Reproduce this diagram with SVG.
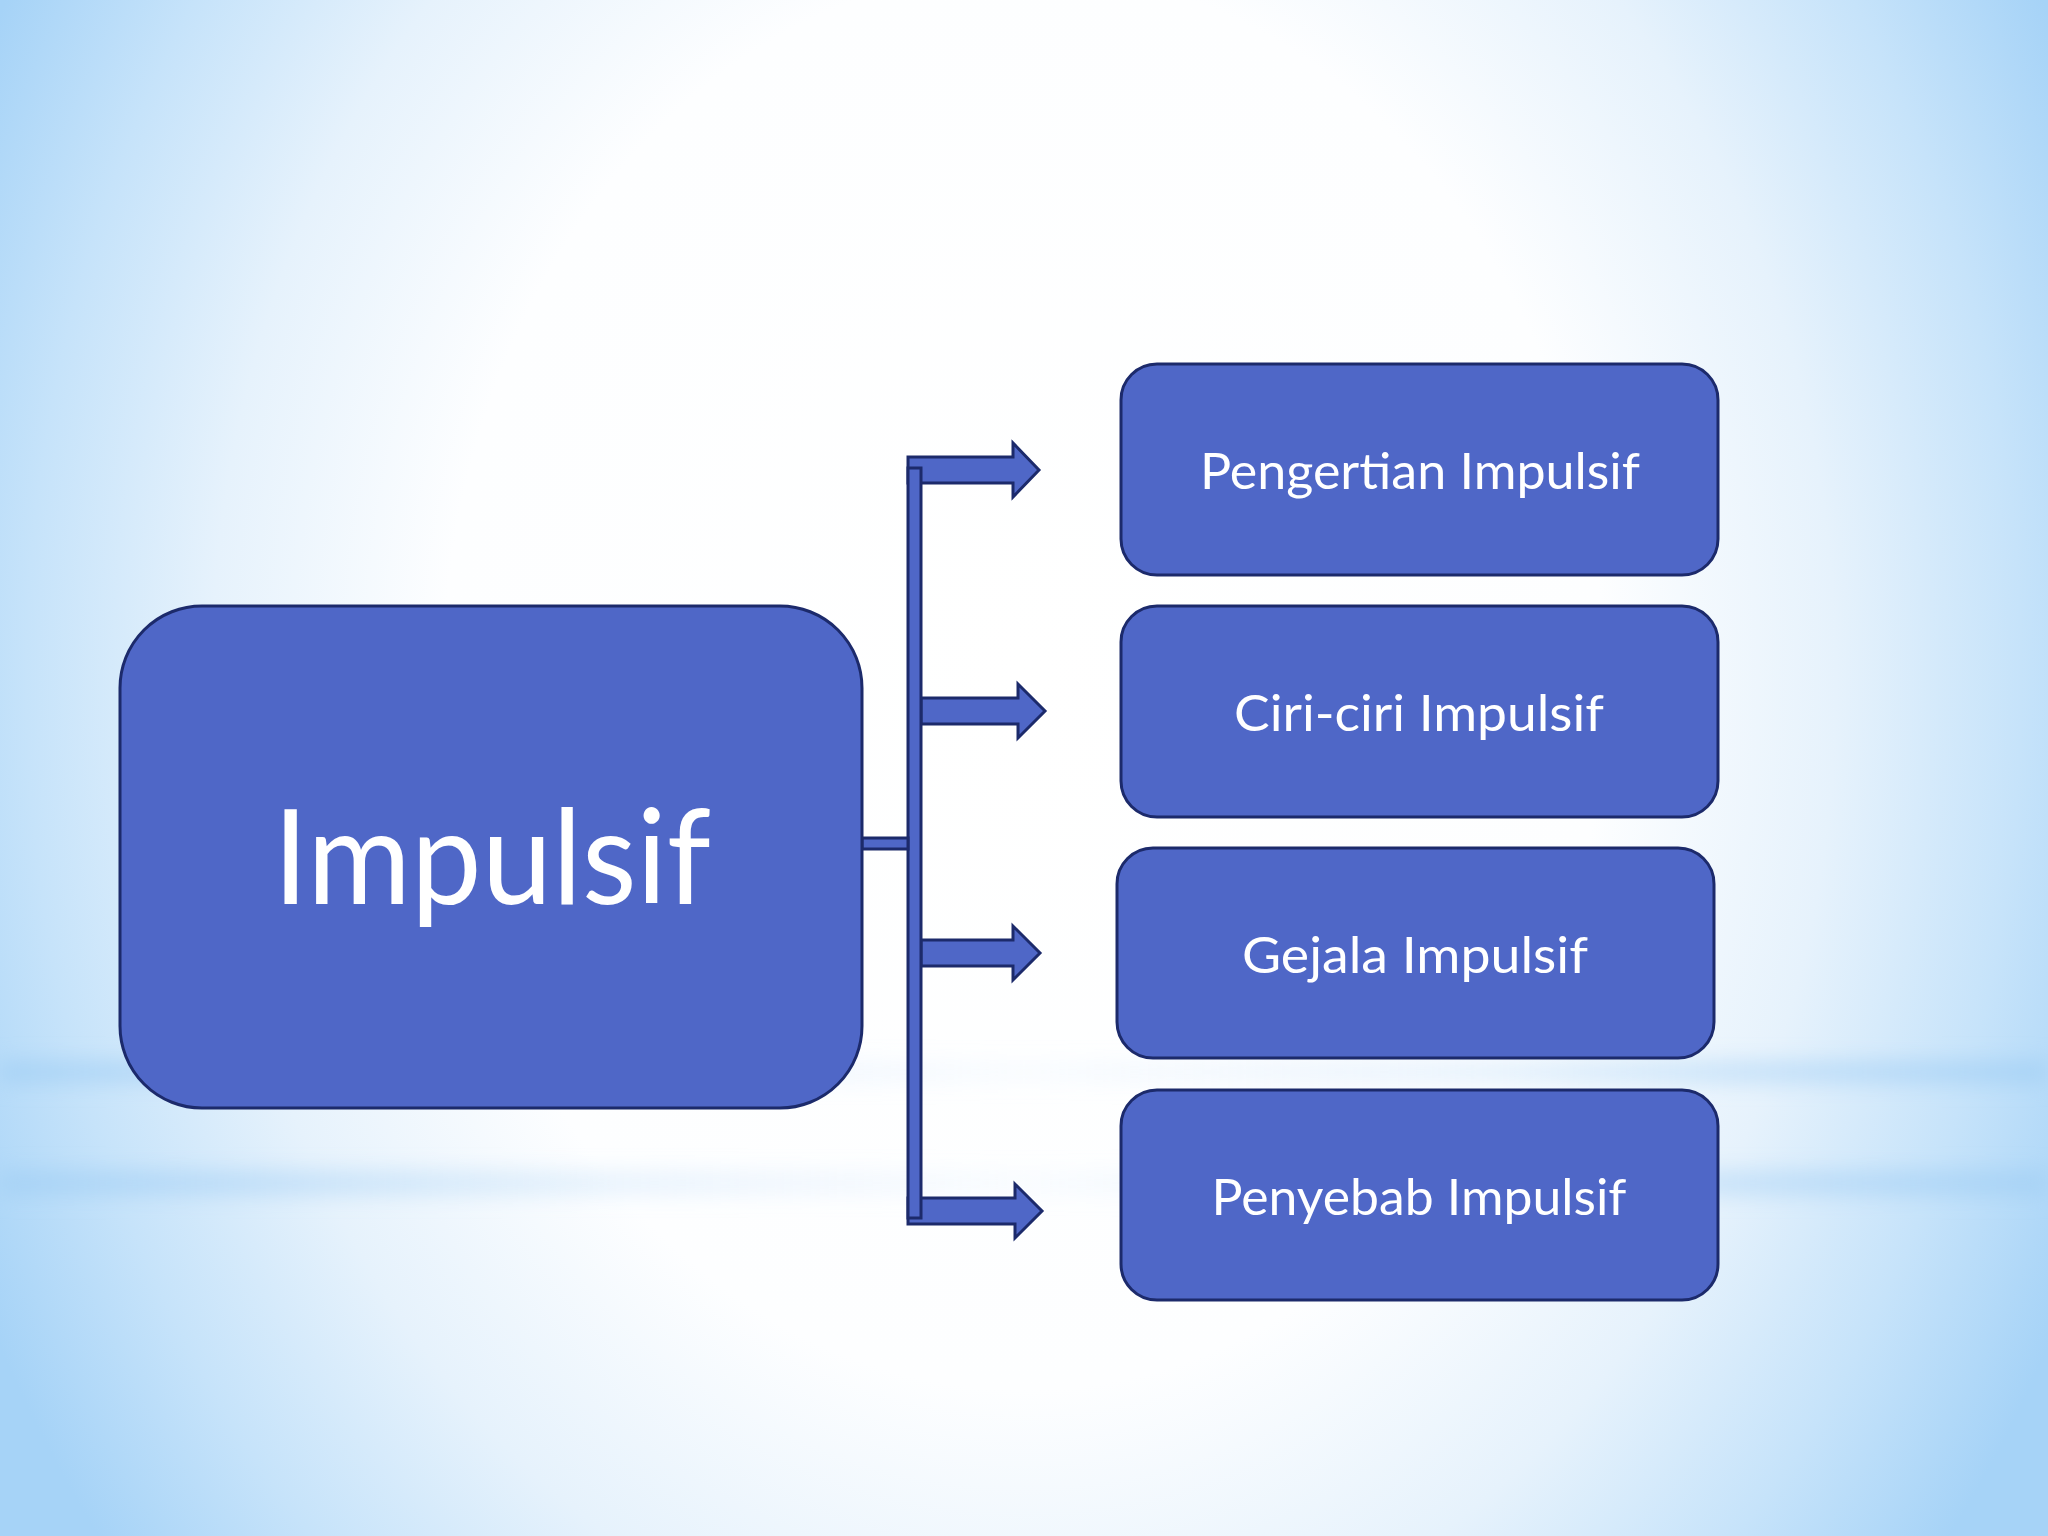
<svg xmlns="http://www.w3.org/2000/svg" width="2048" height="1536" viewBox="0 0 2048 1536">
  <defs>
    <radialGradient id="bg" cx="0" cy="0" r="1" gradientUnits="userSpaceOnUse" gradientTransform="translate(1024 680) scale(1160 1420)">
      <stop offset="0" stop-color="#ffffff"/>
      <stop offset="0.5" stop-color="#fdfeff"/>
      <stop offset="0.7" stop-color="#e6f2fc"/>
      <stop offset="0.86" stop-color="#c6e3fa"/>
      <stop offset="1" stop-color="#a6d3f7"/>
    </radialGradient>
    <linearGradient id="band" x1="0" y1="0" x2="1" y2="0">
      <stop offset="0" stop-color="#a3d0f5" stop-opacity="0.75"/>
      <stop offset="0.3" stop-color="#bcdcf8" stop-opacity="0.3"/>
      <stop offset="0.5" stop-color="#d3e8fa" stop-opacity="0.12"/>
      <stop offset="0.7" stop-color="#bcdcf8" stop-opacity="0.3"/>
      <stop offset="1" stop-color="#a3d0f5" stop-opacity="0.75"/>
    </linearGradient>
    <filter id="blur" x="-10%" y="-200%" width="120%" height="500%">
      <feGaussianBlur stdDeviation="10"/>
    </filter>
    <style>
      .box { fill: #4f67c7; stroke: #1c2a6b; stroke-width: 3; }
      .conn { fill: #4f67c7; stroke: #1c2a6b; stroke-width: 3; stroke-linejoin: miter; }
      .lbl { fill: #ffffff; font-family: "Lato", "Noto Sans", "Liberation Sans", sans-serif; text-anchor: middle; }
      .small { font-size: 50px; }
      .big { font-size: 132px; }
    </style>
  </defs>

  <g id="background">
    <rect x="0" y="0" width="2048" height="1536" fill="url(#bg)"/>
    <rect x="0" y="1060" width="2048" height="24" fill="url(#band)" filter="url(#blur)"/>
    <rect x="0" y="1170" width="2048" height="26" fill="url(#band)" filter="url(#blur)"/>
  </g>

  <g id="connectors">
    <path class="conn" d="M908,457 H1013 V443 L1039,470 L1013,497 V483 H908 Z"/>
    <path class="conn" d="M921,698 H1018 V684 L1045,711 L1018,738 V724 H921 Z"/>
    <path class="conn" d="M921,940 H1013 V926 L1040,953 L1013,980 V966 H921 Z"/>
    <path class="conn" d="M908,1198 H1015 V1184 L1042,1211 L1015,1238 V1224 H908 Z"/>
    <rect class="conn" x="908" y="468" width="13" height="750"/>
    <rect class="conn" x="862" y="838" width="46" height="11"/>
  </g>

  <g id="node-impulsif">
    <rect class="box" x="120" y="606" width="742" height="502" rx="82" ry="82"/>
    <text class="lbl big" x="492" y="904" textLength="438" lengthAdjust="spacingAndGlyphs">Impulsif</text>
  </g>

  <g id="node-pengertian">
    <rect class="box" x="1121" y="364" width="597" height="211" rx="36" ry="36"/>
    <text class="lbl small" x="1420" y="489" textLength="440" lengthAdjust="spacingAndGlyphs">Pengertian Impulsif</text>
  </g>

  <g id="node-ciri">
    <rect class="box" x="1121" y="606" width="597" height="211" rx="36" ry="36"/>
    <text class="lbl small" x="1419" y="731" textLength="370" lengthAdjust="spacingAndGlyphs">Ciri-ciri Impulsif</text>
  </g>

  <g id="node-gejala">
    <rect class="box" x="1117" y="848" width="597" height="210" rx="36" ry="36"/>
    <text class="lbl small" x="1415" y="973" textLength="346" lengthAdjust="spacingAndGlyphs">Gejala Impulsif</text>
  </g>

  <g id="node-penyebab">
    <rect class="box" x="1121" y="1090" width="597" height="210" rx="36" ry="36"/>
    <text class="lbl small" x="1419" y="1215" textLength="415" lengthAdjust="spacingAndGlyphs">Penyebab Impulsif</text>
  </g>
</svg>
